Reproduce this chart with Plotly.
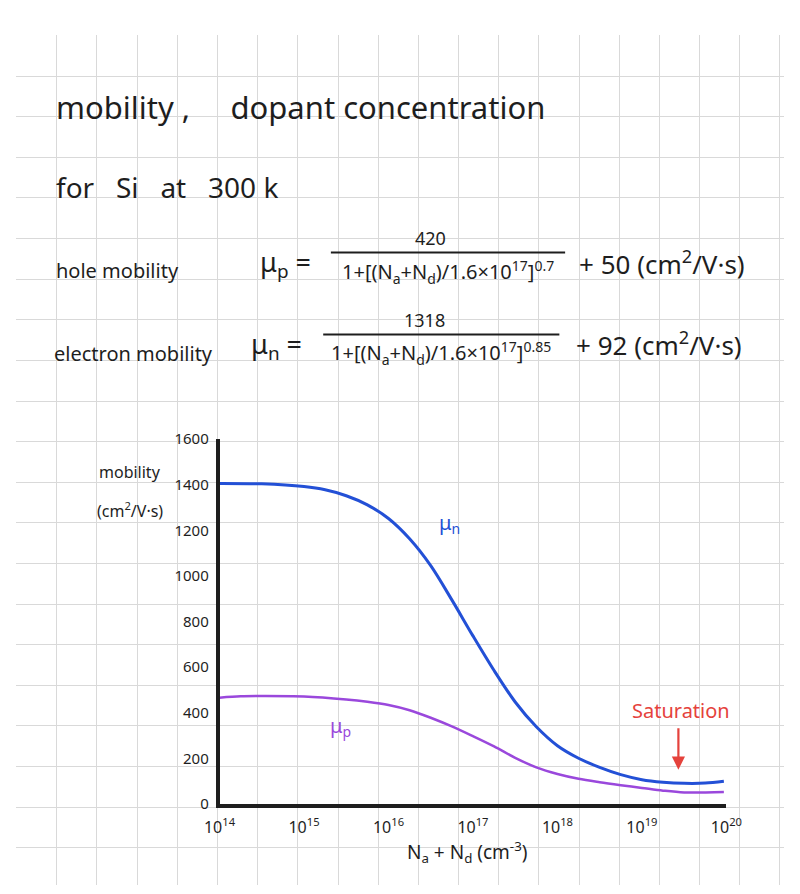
import plotly.graph_objects as go

W, H = 800, 894

# ---- data ----
log_n_e = [14.0, 14.5, 15.0, 15.25, 15.5, 15.75, 16.0, 16.25, 16.5, 16.75, 17.0, 17.25,
           17.5, 17.75, 18.0, 18.25, 18.5, 18.75, 19.0, 19.25, 19.5, 19.75, 19.97]
mu_n = [1406, 1404, 1392, 1378, 1352, 1312, 1252, 1163, 1045, 895, 737, 585,
        447, 338, 255, 200, 160, 128, 106, 95, 90, 91, 99]

log_n_h = [14.0, 14.25, 14.5, 15.0, 15.5, 15.75, 16.0, 16.25, 16.5, 16.75, 17.0, 17.25,
           17.5, 17.75, 18.0, 18.25, 18.5, 18.75, 19.0, 19.25, 19.5, 19.97]
mu_p = [466, 472, 473, 471, 458, 448, 434, 411, 378, 340, 297, 252,
        202, 160, 131, 110, 95, 82, 70, 58, 50, 52]

x_tick_exp = [14, 15, 16, 17, 18, 19, 20]
y_ticks = [0, 200, 400, 600, 800, 1000, 1200, 1400, 1600]

BLUE = "#2350d6"
PURPLE = "#9a48dc"
RED = "#e5423c"
INK = "#1e1e1e"
FONT = "Noto Sans"


def px(x):
    return x / W


def py(y):
    return 1 - y / H


fig = go.Figure()

# background grid subplot (x, y) covering the page below the top strip
fig.add_trace(go.Scatter(x=[None], y=[None], xaxis="x", yaxis="y", showlegend=False, hoverinfo="skip"))

# chart curves on x2/y2
fig.add_trace(go.Scatter(x=[10.0 ** v for v in log_n_e], y=mu_n, mode="lines",
                         line=dict(color=BLUE, width=3, shape="spline", smoothing=0.9),
                         xaxis="x2", yaxis="y2", showlegend=False))
fig.add_trace(go.Scatter(x=[10.0 ** v for v in log_n_h], y=mu_p, mode="lines",
                         line=dict(color=PURPLE, width=2.5, shape="spline", smoothing=0.9),
                         xaxis="x2", yaxis="y2", showlegend=False))

grid_col = "#d9d9d9"
fig.update_layout(
    width=W, height=H,
    margin=dict(l=0, r=0, t=0, b=0),
    paper_bgcolor="white", plot_bgcolor="rgba(0,0,0,0)",
    showlegend=False,
    xaxis=dict(domain=[0, 1], range=[0, W], tick0=42.5, dtick=41.85, showgrid=True,
               gridcolor=grid_col, gridwidth=1.3, showticklabels=False, zeroline=False,
               showline=False, ticks="", fixedrange=True),
    yaxis=dict(domain=[0, py(25)], range=[H, 25], tick0=25, dtick=41.55, showgrid=True,
               gridcolor=grid_col, gridwidth=1.3, showticklabels=False, zeroline=False,
               showline=False, ticks="", fixedrange=True),
    xaxis2=dict(domain=[px(212), px(740)], type="log", range=[14, 20], anchor="y2",
                tickvals=[10.0 ** e for e in x_tick_exp],
                ticktext=[f"10<sup>{e}</sup>" for e in x_tick_exp],
                tickfont=dict(family=FONT, size=16, color=INK),
                showgrid=False, zeroline=False, showline=True, linecolor=INK, linewidth=3.5,
                ticks="", ticklen=0, ticklabelstandoff=6),
    yaxis2=dict(domain=[py(811), py(438)], range=[0, 1600], anchor="x2",
                tickvals=y_ticks, ticktext=[str(v) for v in y_ticks],
                tickfont=dict(family=FONT, size=15, color=INK),
                showgrid=False, zeroline=False, showline=True, linecolor=INK, linewidth=3.5,
                ticks="", ticklen=0, ticklabelstandoff=4),
)

ann = []


def text(x, y, s, size, color=INK, xanchor="left", yanchor="middle"):
    ann.append(dict(x=px(x), y=py(y), xref="paper", yref="paper", text=s, showarrow=False,
                    xanchor=xanchor, yanchor=yanchor,
                    font=dict(family=FONT, size=size, color=color)))


text(40, 98, "mobility ,&nbsp;&nbsp;&nbsp;&nbsp; dopant concentration", 31)
text(40, 180, "for&nbsp;&nbsp; Si&nbsp;&nbsp; at&nbsp;&nbsp; 300 k", 28)

# hole mobility formula
text(40, 265, "hole mobility", 20)
text(252, 258, "μ<sub>p</sub> =", 27)
text(432, 232, "420", 18, xanchor="center")
text(450, 267, "1+[(N<sub>a</sub>+N<sub>d</sub>)/1.6×10<sup>17</sup>]<sup>0.7</sup>", 20, xanchor="center")
text(584, 258, "+ 50 (cm<sup>2</sup>/V·s)", 26)

# electron mobility formula
text(38, 350, "electron mobility", 20)
text(243, 342, "μ<sub>n</sub> =", 27)
text(425, 316, "1318", 18, xanchor="center")
text(443, 350, "1+[(N<sub>a</sub>+N<sub>d</sub>)/1.6×10<sup>17</sup>]<sup>0.85</sup>", 20, xanchor="center")
text(581, 341, "+ 92 (cm<sup>2</sup>/V·s)", 26)

# axis titles
text(84, 472, "mobility", 16)
text(82, 510, "(cm<sup>2</sup>/V·s)", 16)
text(470, 860, "N<sub>a</sub> + N<sub>d</sub> (cm<sup>-3</sup>)", 19, xanchor="center")

# curve labels
text(452, 524, "μ<sub>n</sub>", 20, color=BLUE, xanchor="center")
text(338, 732, "μ<sub>p</sub>", 20, color=PURPLE, xanchor="center")

# saturation
text(693, 716, "Saturation", 20, color=RED, xanchor="center")
ann.append(dict(x=px(690), y=py(776), xref="paper", yref="paper", ax=0, ay=-43,
                axref="pixel", ayref="pixel", text="", showarrow=True, arrowhead=2,
                arrowsize=1.2, arrowwidth=2.2, arrowcolor=RED))

fig.update_layout(annotations=ann)

shapes = [
    dict(type="line", xref="paper", yref="paper", x0=px(328), x1=px(572), y0=py(247), y1=py(247),
         line=dict(color=INK, width=2)),
    dict(type="line", xref="paper", yref="paper", x0=px(320), x1=px(566), y0=py(331), y1=py(331),
         line=dict(color=INK, width=2)),
]
fig.update_layout(shapes=shapes)

fig.write_html("out.html")
